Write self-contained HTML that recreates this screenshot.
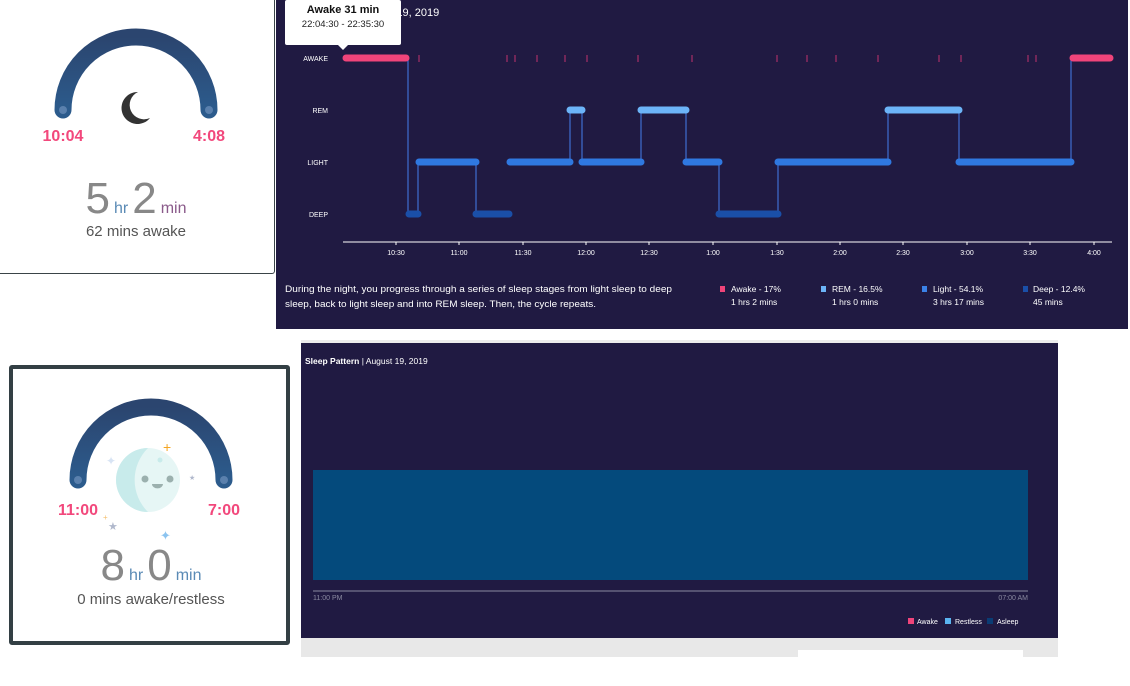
<!DOCTYPE html>
<html><head><meta charset="utf-8"><style>
*{margin:0;padding:0;box-sizing:border-box}
body{width:1130px;height:686px;background:#fff;position:relative;overflow:hidden;font-family:"Liberation Sans",sans-serif}
.a{position:absolute}
</style></head><body>
<!-- top-left card -->
<div class="a" style="left:0;top:0;width:275px;height:274px;background:#fff;border-right:1px solid #3a4448;border-bottom:1px solid #3a4448;border-radius:0 0 3px 0"></div>
<svg class="a" style="left:0;top:0" width="275" height="274">
<defs><linearGradient id="g1" x1="0" y1="0" x2="0" y2="1"><stop offset="0" stop-color="#2b456f"/><stop offset="1" stop-color="#2c5b8c"/></linearGradient></defs>
<path d="M63 110 A73 73 0 0 1 209 110" fill="none" stroke="url(#g1)" stroke-width="17" stroke-linecap="round"/>
<circle cx="63" cy="110" r="4" fill="#5a80ad"/><circle cx="209" cy="110" r="4" fill="#5a80ad"/>
<path d="M138 92 A16 16 0 1 0 150 118 A13 13 0 0 1 138 92Z" fill="#333"/>
<text x="63" y="141" text-anchor="middle" font-size="16" font-weight="bold" fill="#f2487c">10:04</text>
<text x="209" y="141" text-anchor="middle" font-size="16" font-weight="bold" fill="#f2487c">4:08</text>
<text x="136" y="213" text-anchor="middle" fill="#888"><tspan font-size="44">5</tspan><tspan font-size="16" fill="#5a8ab5" dx="4">hr</tspan><tspan font-size="44" dx="4">2</tspan><tspan font-size="16" fill="#8a5a8a" dx="4">min</tspan></text>
<text x="136" y="236" text-anchor="middle" font-size="15" fill="#555">62 mins awake</text>
</svg>

<!-- top chart panel -->
<div class="a" style="left:276px;top:0;width:852px;height:329px;background:#201a42"></div>
<svg class="a" style="left:0;top:0" width="1130" height="330" font-family="Liberation Sans,sans-serif">
<text x="300" y="16" font-size="11" fill="#fff">Sleep Stages | Aug 19, 2019</text>
<g font-size="7" fill="#fff" text-anchor="end">
<text x="328" y="61">AWAKE</text><text x="328" y="113">REM</text><text x="328" y="165">LIGHT</text><text x="328" y="217">DEEP</text></g>
<g stroke="#8a2a60" stroke-width="1.5">
<path d="M419 55v7M507 55v7M515 55v7M537 55v7M565 55v7M587 55v7M638 55v7M692 55v7M777 55v7M807 55v7M836 55v7M878 55v7M939 55v7M961 55v7M1028 55v7M1036 55v7"/></g>
<g fill="none" stroke-width="1.2">
<path d="M408 58V214M418 214V162M476 162V214M570 162V110M582 110V162M641 162V110M686 110V162M719 162V214M778 214V162M888 162V110M959 110V162M1071 162V58" stroke="#3f6fd0"/></g>
<g stroke-width="7" stroke-linecap="round">
<path d="M346 58H406M1073 58H1110" stroke="#f0447a"/>
<path d="M570 110H582M641 110H686M888 110H959" stroke="#6cb4f8"/>
<path d="M419 162H476M510 162H570M582 162H641M686 162H719M778 162H888M959 162H1071" stroke="#2f78e0"/>
<path d="M409 214H418M476 214H509M719 214H778" stroke="#1a4fa8"/>
</g>
<line x1="343" y1="242" x2="1112" y2="242" stroke="#fff" stroke-width="1"/>
<g stroke="#fff"><path d="M396 242v3M459 242v3M523 242v3M586 242v3M649 242v3M713 242v3M777 242v3M840 242v3M903 242v3M967 242v3M1030 242v3M1094 242v3"/></g>
<g font-size="7" fill="#fff" text-anchor="middle">
<text x="396" y="255">10:30</text><text x="459" y="255">11:00</text><text x="523" y="255">11:30</text><text x="586" y="255">12:00</text><text x="649" y="255">12:30</text><text x="713" y="255">1:00</text><text x="777" y="255">1:30</text><text x="840" y="255">2:00</text><text x="903" y="255">2:30</text><text x="967" y="255">3:00</text><text x="1030" y="255">3:30</text><text x="1094" y="255">4:00</text></g>
<g font-size="9" fill="#fff">
<text x="285" y="292" textLength="387" lengthAdjust="spacingAndGlyphs">During the night, you progress through a series of sleep stages from light sleep to deep</text>
<text x="285" y="307" textLength="311" lengthAdjust="spacingAndGlyphs">sleep, back to light sleep and into REM sleep. Then, the cycle repeats.</text>
</g>
<g font-size="8.5" fill="#fff">
<rect x="720" y="286" width="5" height="6" fill="#f0447a"/><text x="731" y="292">Awake - 17%</text><text x="731" y="305">1 hrs 2 mins</text>
<rect x="821" y="286" width="5" height="6" fill="#6cb4f8"/><text x="832" y="292">REM - 16.5%</text><text x="832" y="305">1 hrs 0 mins</text>
<rect x="922" y="286" width="5" height="6" fill="#3b82e8"/><text x="933" y="292">Light - 54.1%</text><text x="933" y="305">3 hrs 17 mins</text>
<rect x="1023" y="286" width="5" height="6" fill="#1a4fa8"/><text x="1033" y="292">Deep - 12.4%</text><text x="1033" y="305">45 mins</text>
</g>
<rect x="285" y="0" width="116" height="45" rx="2" fill="#fff"/>
<path d="M338 45 L343 50 L348 45Z" fill="#fff"/>
<text x="343" y="13" text-anchor="middle" font-size="11" font-weight="bold" fill="#111">Awake 31 min</text>
<text x="343" y="27" text-anchor="middle" font-size="9.5" fill="#222">22:04:30 - 22:35:30</text>
</svg>

<!-- bottom-left card -->
<div class="a" style="left:9px;top:365px;width:281px;height:280px;background:#fff;border:4px solid #333f44;border-radius:3px"></div>
<svg class="a" style="left:0;top:340px" width="300" height="346">
<defs><linearGradient id="g2" x1="0" y1="0" x2="0" y2="1"><stop offset="0" stop-color="#2b456f"/><stop offset="1" stop-color="#2c5b8c"/></linearGradient></defs>
<path d="M78 140 A73 73 0 0 1 224 140" fill="none" stroke="url(#g2)" stroke-width="17" stroke-linecap="round"/>
<circle cx="78" cy="140" r="4" fill="#5a80ad"/><circle cx="224" cy="140" r="4" fill="#5a80ad"/>
<circle cx="148" cy="140" r="32" fill="#e6f6f5"/>
<path d="M148 108 A32 32 0 0 0 148 172 A45 45 0 0 1 148 108Z" fill="#c8ebeb"/>
<circle cx="145" cy="139" r="3.5" fill="#9bb0ae"/><circle cx="170" cy="139" r="3.5" fill="#9bb0ae"/>
<path d="M152 144 A5 4 0 0 0 163 144Z" fill="#9bb0ae"/>
<circle cx="160" cy="120" r="2.5" fill="#c8ebeb"/>
<text x="163" y="112" font-size="14" fill="#f5a623">+</text>
<text x="106" y="125" font-size="12" fill="#d8e4f4">✦</text>
<text x="160" y="200" font-size="13" fill="#8cc4f0">✦</text>
<text x="108" y="190" font-size="11" fill="#b0b8cc">★</text>
<text x="103" y="180" font-size="8" fill="#f5c070">+</text>
<text x="189" y="140" font-size="7" fill="#b0b8cc">★</text>
<text x="78" y="175" text-anchor="middle" font-size="16" font-weight="bold" fill="#f2487c">11:00</text>
<text x="224" y="175" text-anchor="middle" font-size="16" font-weight="bold" fill="#f2487c">7:00</text>
<text x="151" y="240" text-anchor="middle" fill="#888"><tspan font-size="44">8</tspan><tspan font-size="16" fill="#5a8ab5" dx="4">hr</tspan><tspan font-size="44" dx="4">0</tspan><tspan font-size="16" fill="#5a8ab5" dx="4">min</tspan></text>
<text x="151" y="264" text-anchor="middle" font-size="15" fill="#555">0 mins awake/restless</text>
</svg>

<!-- bottom panel -->
<div class="a" style="left:301px;top:340px;width:757px;height:3px;background:#ececec"></div>
<div class="a" style="left:301px;top:343px;width:757px;height:295px;background:#201a42"></div>
<div class="a" style="left:301px;top:638px;width:757px;height:19px;background:#e8e8e8"></div>
<div class="a" style="left:798px;top:650px;width:225px;height:10px;background:#fff"></div>
<svg class="a" style="left:0;top:340px" width="1130" height="300" font-family="Liberation Sans,sans-serif">
<text x="305" y="24" font-size="8.5" fill="#fff"><tspan font-weight="bold">Sleep Pattern</tspan> | August 19, 2019</text>
<rect x="313" y="130" width="715" height="110" fill="#044a7c"/>
<line x1="313" y1="251" x2="1028" y2="251" stroke="#8a8aa0" stroke-width="1"/>
<text x="313" y="260" font-size="7" fill="#8a8aa0">11:00 PM</text>
<text x="1028" y="260" font-size="7" fill="#8a8aa0" text-anchor="end">07:00 AM</text>
<g font-size="7" fill="#fff">
<rect x="908" y="278" width="6" height="6" fill="#f0447a"/><text x="917" y="284">Awake</text>
<rect x="945" y="278" width="6" height="6" fill="#5ab4f0"/><text x="955" y="284">Restless</text>
<rect x="987" y="278" width="6" height="6" fill="#0a3c74"/><text x="997" y="284">Asleep</text>
</g>
</svg>
</body></html>
